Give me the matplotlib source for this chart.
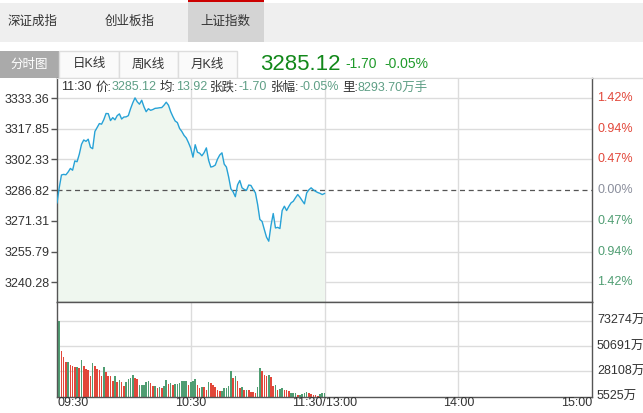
import numpy as np
import matplotlib
matplotlib.use('Agg')
import matplotlib.pyplot as plt
from matplotlib.patches import Rectangle

plt.rcParams['font.family'] = ['Liberation Sans', 'Noto Sans CJK SC', 'DejaVu Sans']

# ---------------- data ----------------
index_tabs = ["深证成指", "创业板指", "上证指数"]
period_tabs = ["分时图", "日K线", "周K线", "月K线"]
last_price = "3285.12"
change = "-1.70"
change_pct = "-0.05%"
prev_close = 3286.82
price_ticks = [3333.36, 3317.85, 3302.33, 3286.82, 3271.31, 3255.79, 3240.28]
pct_labels = ["1.42%", "0.94%", "0.47%", "0.00%", "0.47%", "0.94%", "1.42%"]
vol_ticks = [73274, 50691, 28108, 5525]
time_labels = ["09:30", "10:30", "11:30/13:00", "14:00", "15:00"]
time_minutes = [0, 60, 120, 180, 240]
info_labels = ["11:30", "价:", "均:", "张跌:", "张幅:", "里:"]
info_values = ["", "3285.12", "13.92", "-1.70", "-0.05%", "8293.70万手"]

prices = [
    3280.4, 3288.0, 3294.5, 3294.8, 3294.6, 3296.0, 3297.8, 3296.9, 3301.6, 3301.2,
    3305.0, 3310.0, 3312.2, 3311.5, 3312.6, 3308.5, 3307.8, 3316.5, 3318.5, 3320.5,
    3320.2, 3322.5, 3325.6, 3325.5, 3322.0, 3323.5, 3322.4, 3324.5, 3325.4, 3322.8,
    3323.8, 3323.9, 3324.5, 3328.0, 3331.0, 3333.5, 3331.5, 3330.3, 3332.3, 3329.0,
    3326.5, 3328.0, 3327.2, 3327.6, 3328.2, 3328.3, 3328.5, 3328.6, 3329.8, 3331.3,
    3329.8, 3326.5, 3324.0, 3321.8, 3321.0, 3318.0, 3316.5, 3314.5, 3313.2, 3310.8,
    3308.0, 3303.5, 3309.8, 3306.0, 3305.5, 3304.2, 3305.8, 3308.2, 3302.0, 3298.5,
    3298.8, 3299.5, 3302.5, 3304.6, 3305.7, 3300.0, 3298.5, 3293.5, 3287.5, 3286.0,
    3283.5, 3289.5, 3291.7, 3288.0, 3287.2, 3286.7, 3289.4, 3289.2, 3287.2, 3285.5,
    3279.6, 3272.0, 3271.0, 3266.9, 3263.0, 3261.0, 3269.0, 3275.0, 3267.7, 3268.0,
    3267.4, 3276.5, 3278.7, 3276.5, 3278.6, 3280.4, 3281.2, 3283.0, 3284.6, 3283.2,
    3281.5, 3279.9, 3285.4, 3287.0, 3288.0, 3287.0, 3286.2, 3285.6, 3285.2, 3284.6,
    3285.12,
]

volumes = [
    73274, 46700, 41230, 36650, 36650, 34200, 33000, 32080, 31770, 31160,
    38490, 33000, 30250, 29640, 23840, 35740, 33000, 30250, 29640, 23840,
    32080, 27500, 24450, 23840, 19260, 23840, 18340, 20480, 18340, 14680,
    18340, 21390, 22000, 25060, 22000, 21390, 16210, 16210, 16210, 18340,
    19260, 17430, 14680, 14680, 13150, 13770, 12850, 15290, 20480, 16820,
    17430, 15900, 16820, 16820, 17430, 19260, 19260, 19260, 15900, 18340,
    19870, 21400, 16210, 13150, 14380, 13770, 11630, 18340, 17430, 16210,
    14380, 11630, 10710, 10710, 13150, 12850, 14680, 28420, 22000, 23840,
    19870, 13150, 13770, 11630, 11630, 11020, 9800, 9190, 8270, 13770,
    31160, 28420, 25360, 24450, 25360, 23530, 15290, 16210, 11630, 12240,
    13150, 11630, 11630, 10100, 8580, 8270, 8270, 7050, 6750, 7660,
    8580, 9190, 8270, 7360, 7050, 6440, 6140, 7660, 8580, 8580,
]
vol_dir = ("grrrgrrrgr" "grrrrgrrrr" "grrrrgrgrr" "ggggrrgggg" "grrgrgrggr" "grggggggrg"
           "ggrrgrrgrr" "rrrgggggrg" "rrgrgrrrrg" "grrrgrrgrg" "grrrgggrgg" "ggrrrrrggg")

# ---------------- styles ----------------
W, H = 643, 413
RED = '#e2473a'
GREEN = '#4f9d72'
BIG_GREEN = '#12881a'
INFO_VAL = '#5f9f86'
GRID = '#dcdcdc'
AXIS = '#555555'
TXT = '#333333'

fig = plt.figure(figsize=(W / 100, H / 100), dpi=100)
fig.patch.set_facecolor('white')

bg = fig.add_axes([0, 0, 1, 1])
bg.set_xlim(0, W)
bg.set_ylim(H, 0)
bg.axis('off')
bg.set_zorder(-1)

# header row 1
bg.add_patch(Rectangle((0, 2.5), W, 39.5, color='#efefef', lw=0))
bg.add_patch(Rectangle((188, 0), 75.5, 42, color='#d4d4d4', lw=0))
bg.add_patch(Rectangle((188, 0), 75.5, 2.2, color='#cc0000', lw=0))
for lbl, cx in zip(index_tabs, [33, 130, 225.5]):
    bg.text(cx, 21.5, lbl, ha='center', va='center', fontsize=9, color=TXT)

# header row 2
bx = [0, 59.4, 118.9, 177.5, 236.5]
for i, lbl in enumerate(period_tabs):
    if i == 0:
        bg.add_patch(Rectangle((bx[0], 51), bx[1] - bx[0], 26.5, color='#aaaaaa', lw=0))
        col = 'white'
    else:
        bg.add_patch(Rectangle((bx[i], 51), bx[i + 1] - bx[i], 26.5, facecolor='#fafafa',
                               edgecolor='#dddddd', lw=1))
        col = TXT
    bg.text((bx[i] + bx[i + 1]) / 2, 64.5, lbl, ha='center', va='center', fontsize=9, color=col)

bg.text(260, 65, last_price, ha='left', va='center', fontsize=16, color=BIG_GREEN)
bg.text(345, 64.5, change, ha='left', va='center', fontsize=10, color='#1f9a2a')
bg.text(384, 64.5, change_pct, ha='left', va='center', fontsize=10, color='#1f9a2a')
bg.plot([57, W], [77.7, 77.7], color=GRID, lw=1, zorder=0)

# ---------------- axes helpers ----------------
def ax_px(x0, y0, x1, y1):
    return fig.add_axes([x0 / W, 1 - y1 / H, (x1 - x0) / W, (y1 - y0) / H])

X0, X1 = 57, 592
P_TOP, P_BOT, V_BOT = 77.7, 301.7, 396.5

# ---------------- price panel ----------------
pa = ax_px(X0, P_TOP, X1, P_BOT)
pa.set_xlim(0, 240)
pa.set_ylim(3230.4, 3343.7)
m = np.arange(len(prices))
pa.fill_between(m, prices, pa.get_ylim()[0], color='#eff7ef', lw=0, zorder=1)
for t in price_ticks:
    if t != prev_close:
        pa.axhline(t, color=GRID, lw=1, zorder=0.5)
for tm in time_minutes[1:-1]:
    pa.axvline(tm, color=GRID, lw=1, zorder=0.5)
pa.axhline(prev_close, color=AXIS, lw=0.9, ls=(0, (4, 3)), zorder=2)
pa.plot(m, prices, color='#27a2d6', lw=1.0, zorder=3)
pa.set_xticks([])
pa.set_yticks(price_ticks)
pa.set_yticklabels([f"{t:.2f}" for t in price_ticks], fontsize=9, color=TXT)
pa.tick_params(axis='y', length=4, width=1, color=AXIS, pad=1.5)
for s in ['left', 'right', 'bottom']:
    pa.spines[s].set_color(AXIS)
    pa.spines[s].set_linewidth(1)
pa.spines['top'].set_color(GRID)
pa.set_facecolor('white')

pct_colors = [RED, RED, RED, '#8a8e9c', GREEN, GREEN, GREEN]
for t, lbl, c in zip(price_ticks, pct_labels, pct_colors):
    pa.annotate(lbl, xy=(1, t), xycoords=pa.get_yaxis_transform(), xytext=(5, 0),
                textcoords='offset pixels', ha='left', va='center', fontsize=9, color=c)

# ---------------- volume panel ----------------
va = ax_px(X0, P_BOT, X1, V_BOT)
va.set_xlim(0, 240)
va.set_ylim(5525, 91000)
for v in vol_ticks[:-1]:
    va.axhline(v, color=GRID, lw=1, zorder=0.5)
for tm in time_minutes[1:-1]:
    va.axvline(tm, color=GRID, lw=1, zorder=0.5)
bar_x = np.arange(1, len(volumes) + 1)
bar_c = [RED if d == 'r' else GREEN for d in vol_dir]
va.bar(bar_x, np.array(volumes) - 5525, bottom=5525, width=0.72, color=bar_c, lw=0, zorder=2)
va.set_xticks([])
va.set_yticks([])
for s in va.spines.values():
    s.set_color(AXIS)
    s.set_linewidth(1)
for v in vol_ticks:
    va.annotate(f"{v}万", xy=(1, v), xycoords=va.get_yaxis_transform(), xytext=(5, 0),
                textcoords='offset pixels', ha='left', va='center', fontsize=9, color=TXT)
for i, (lbl, tm) in enumerate(zip(time_labels, time_minutes)):
    ha = 'left' if i == 0 else ('right' if i == len(time_labels) - 1 else 'center')
    va.annotate(lbl, xy=(tm, 0), xycoords=va.get_xaxis_transform(), xytext=(0, -7),
                textcoords='offset pixels', ha=ha, va='center', fontsize=9, color=TXT)

# ---------------- info line overlay ----------------
ov = fig.add_axes([0, 0, 1, 1])
ov.set_xlim(0, W)
ov.set_ylim(H, 0)
ov.axis('off')
ov.patch.set_alpha(0)
ov.set_zorder(10)
renderer = fig.canvas.get_renderer()
x = 61.5
for lbl, val in zip(info_labels, info_values):
    t = ov.text(x, 87.5, lbl, ha='left', va='center', fontsize=9, color=TXT)
    x += t.get_window_extent(renderer).width
    if val:
        t = ov.text(x, 87.5, val, ha='left', va='center', fontsize=9, color=INFO_VAL)
        x += t.get_window_extent(renderer).width
    x += 3.5

fig.savefig('out.png', dpi=100, facecolor='white')
